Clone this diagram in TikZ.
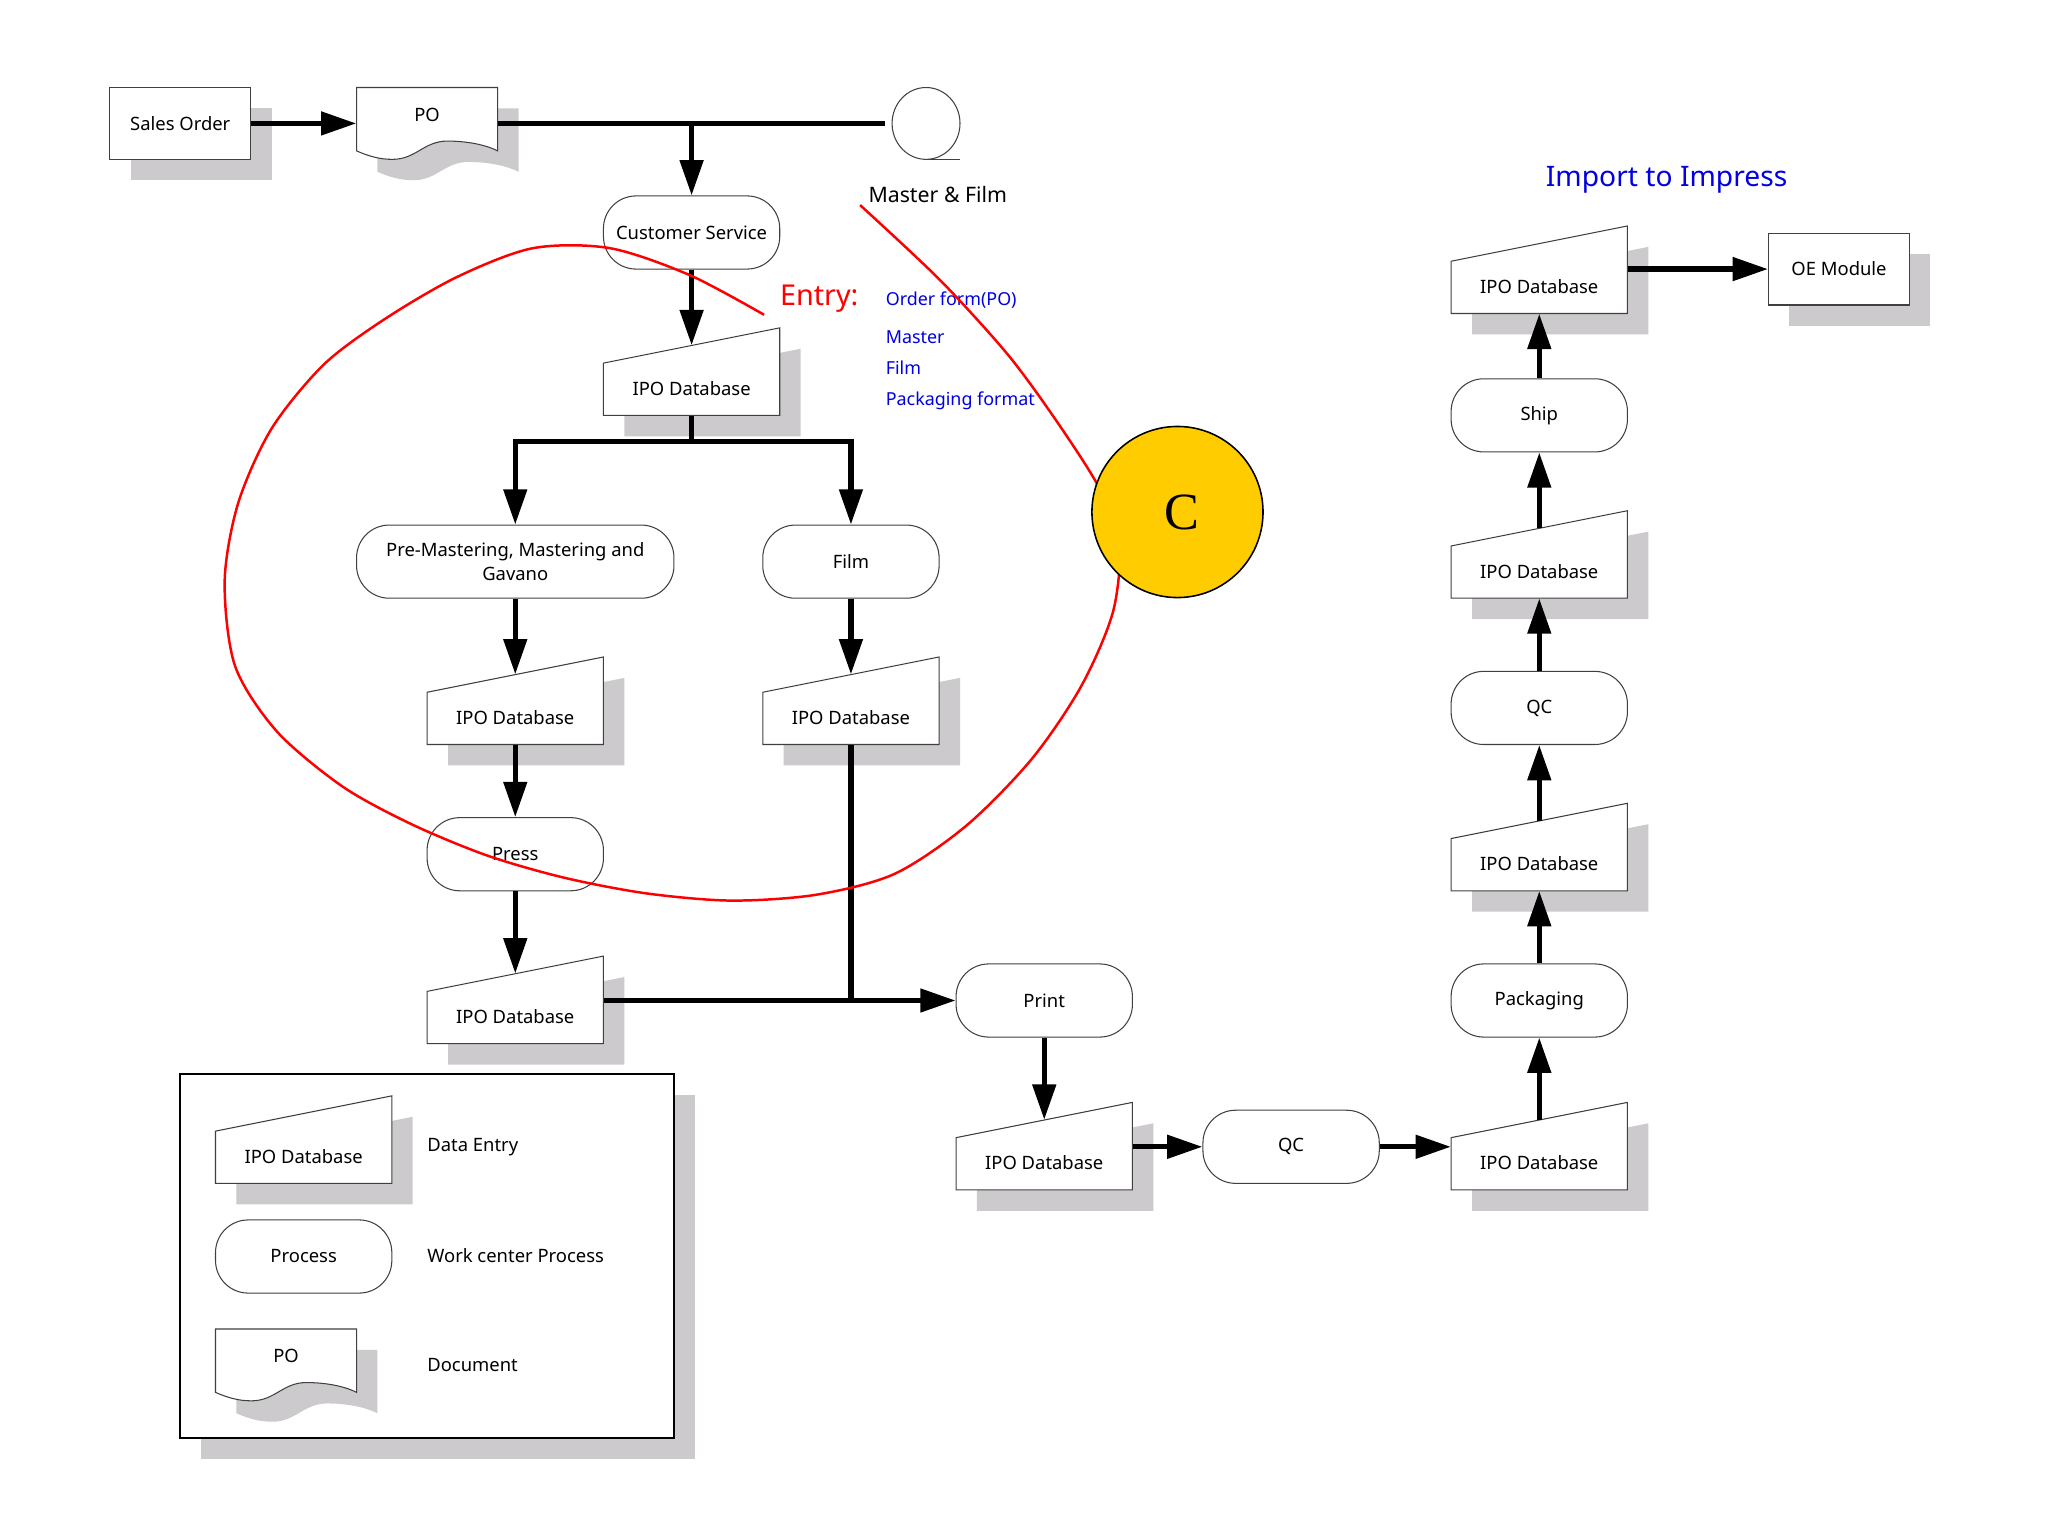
\documentclass[tikz,border=0pt]{standalone}
\usepackage{fontspec}
\setmainfont{Noto Sans}
\newfontfamily\serifC{Liberation Serif}
\usetikzlibrary{arrows.meta,shapes.geometric}
\definecolor{shadowgray}{RGB}{204,202,204}
\definecolor{discgold}{RGB}{255,204,0}
\definecolor{noteblue}{RGB}{0,0,225}
\tikzset{
  shapeline/.style={draw=black!75,line width=0.8pt,fill=white},
  shadowfill/.style={fill=shadowgray,draw=none},
  flowline/.style={line width=4pt,draw=black},
  flowarrow/.style={flowline,-{Triangle[length=27pt,width=17.5pt]}},
  bodytext/.style={font=\fontsize{14.1}{18.5}\selectfont,inner sep=0pt,align=center},
  processbox/.style={bodytext,shapeline,rounded corners=25pt,minimum width=135pt,minimum height=56pt},
  recordbox/.style={bodytext,shapeline,minimum width=108pt,minimum height=55pt},
  dbtext/.style={bodytext,minimum width=135pt,minimum height=53.5pt,text height=28pt,text depth=5pt},
  doctext/.style={bodytext,minimum width=108pt,minimum height=55pt,text height=12pt,text depth=15pt},
  notetext/.style={bodytext,font=\fontsize{13.7}{18}\selectfont,text=noteblue,anchor=west},
  legendtext/.style={bodytext,anchor=west},
}
\newcommand{\ipoDb}[3]{%
  \fill[shadowfill] (#2+16,#3+16) -- ++(0,-40) -- ++(135,-27) -- ++(0,67) -- cycle;
  \draw[shapeline] (#2,#3) -- ++(0,-40) -- ++(135,-27) -- ++(0,67) -- cycle;
  \node[dbtext] (#1) at (#2+67.5,#3-26.75) {IPO Database};}
\newcommand{\docWave}[2]{%
  (#1,#2) -- ++(108,0) -- ++(0,48.5) .. controls +(-11,-5.5) and +(12.5,0) .. ++(-38.5,-7.5)
  .. controls +(-18,0) and +(18,0) .. ++(-42,14) .. controls +(-10,0) and +(9,4) .. ++(-27.5,-6.5) -- cycle}
\newcommand{\poDoc}[3]{%
  \fill[shadowfill] \docWave{#2+16}{#3+16};
  \draw[shapeline] \docWave{#2}{#3};
  \node[doctext] (#1) at (#2+54,#3+27.5) {PO};}
\newcommand{\recBox}[4]{%
  \fill[shadowfill] (#2+16-54,#3+16-27.5) rectangle ++(108,55);
  \node[recordbox] (#1) at (#2,#3) {#4};}
\begin{document}
\begin{tikzpicture}[x=1pt,y=-1pt]
  \useasboundingbox (0,0) rectangle (1568,1176);

  %% legend frame
  \fill[shadowfill] (154,838) rectangle (532,1117);
  \draw[line width=1.3pt,fill=white] (138,822) rectangle (516,1101);

  %% top row
  \recBox{sales}{138}{94.5}{Sales Order}
  \poDoc{po}{273}{67}
  \node[ellipse,shapeline,minimum width=52pt,minimum height=55pt,inner sep=0pt] (master) at (709,94.5) {};
  \draw[shapeline] (master.south) -- ++(26,0);
  \node[bodytext,font=\fontsize{16.3}{20}\selectfont] (masterlabel) at (718,149) {Master \& Film};

  %% left branch
  \node[processbox] (cs) at (529.5,178) {Customer Service};
  \ipoDb{dbcs}{462}{318}
  \node[processbox,minimum width=243pt] (premaster) at (394.5,430) {Pre-Mastering, Mastering and\\Gavano};
  \node[processbox] (film) at (651.5,430) {Film};
  \ipoDb{dbpre}{327}{570}
  \ipoDb{dbfilm}{584}{570}
  \node[processbox] (press) at (394.5,654) {Press};
  \ipoDb{dbpress}{327}{799}

  %% bottom row
  \node[processbox] (print) at (799.5,766) {Print};
  \ipoDb{dbprint}{732}{911}
  \node[processbox] (qclow) at (988.5,878) {QC};

  %% right column
  \ipoDb{dbqc}{1111}{911}
  \node[processbox] (packaging) at (1178.5,766) {Packaging};
  \ipoDb{dbpack}{1111}{682}
  \node[processbox] (qcup) at (1178.5,542) {QC};
  \ipoDb{dbup}{1111}{458}
  \node[processbox] (ship) at (1178.5,318) {Ship};
  \ipoDb{dbship}{1111}{240}
  \recBox{oe}{1408}{206}{OE Module}

  %% legend contents
  \ipoDb{dblegend}{165}{906}
  \node[processbox] (proclegend) at (232.5,962) {Process};
  \poDoc{polegend}{165}{1017.5}
  \node[legendtext] (entrytext) at (327,878.5) {Data Entry};
  \node[legendtext] (worktext) at (327,961) {Work center Process};
  \node[legendtext] (doctextlabel) at (327,1045) {Document};

  %% connectors
  \coordinate (csjoin) at (cs.north |- po.east);
  \coordinate (split) at (529.5,338);
  \draw[flowarrow] (sales.east) -- (po.west);
  \draw[flowline,shorten >=5pt] (po.east) -- (master.west);
  \draw[flowarrow] (csjoin) -- (cs.north);
  \draw[flowarrow] (cs.south) -- (dbcs.north);
  \draw[flowline] (dbcs.south) -- (split);
  \draw[flowarrow] (split) -| (premaster.north);
  \draw[flowarrow] (split) -| (film.north);
  \draw[flowarrow] (premaster.south) -- (dbpre.north);
  \draw[flowarrow] (film.south) -- (dbfilm.north);
  \draw[flowarrow] (dbpre.south) -- (press.north);
  \draw[flowarrow] (press.south) -- (dbpress.north);
  \draw[flowline] (dbfilm.south) -- (dbfilm.south |- print.west);
  \draw[flowarrow] (dbpress.east |- print.west) -- (print.west);
  \draw[flowarrow] (print.south) -- (dbprint.north);
  \draw[flowarrow] (dbprint.east |- qclow.west) -- (qclow.west);
  \draw[flowarrow] (qclow.east) -- (dbqc.west |- qclow.east);
  \draw[flowarrow] (dbqc.north) -- (packaging.south);
  \draw[flowarrow] (packaging.north) -- (dbpack.south);
  \draw[flowarrow] (dbpack.north) -- (qcup.south);
  \draw[flowarrow] (qcup.north) -- (dbup.south);
  \draw[flowarrow] (dbup.north) -- (ship.south);
  \draw[flowarrow] (ship.north) -- (dbship.south);
  \draw[flowarrow] (dbship.east |- oe.west) -- (oe.west);

  %% notes
  \node[notetext] (orderform) at (678,229.5) {Order form(PO)};
  \node[notetext] (mastertext) at (678,258) {Master};
  \node[notetext] (filmtext) at (678,281.5) {Film};
  \node[notetext] (packtext) at (678,306.5) {Packaging format};
  \node[bodytext,text=red,anchor=west,font=\fontsize{22}{26}\selectfont] (entry) at (597,229) {Entry:};
  \node[bodytext,text=noteblue,font=\fontsize{21.6}{26}\selectfont] (impress) at (1276,138) {Import to Impress};

  %% red lasso
  \draw[red,line width=1.9pt] plot [smooth] coordinates {(585,241) (528,210.6) (467,190) (408,190) (350,212) (295,244) (248,279) (208,328) (182.4,385) (172,445) (180,510) (212,560) (262,602) (315,631) (373,655) (432,672) (495,684) (560,689.5) (625,685) (685,669) (740,632) (790,581) (828,525) (852.5,467) (857,410) (839.7,370) (806.6,319) (770.8,270.5) (719.7,214.4) (658.5,157)};

  %% disc
  \node[circle,draw=black,line width=1.2pt,fill=discgold,minimum size=131pt,inner sep=0pt,font=\serifC\fontsize{40}{40}\selectfont] (disc) at (901.5,392) {\hspace{7pt}C};
\end{tikzpicture}
\end{document}
